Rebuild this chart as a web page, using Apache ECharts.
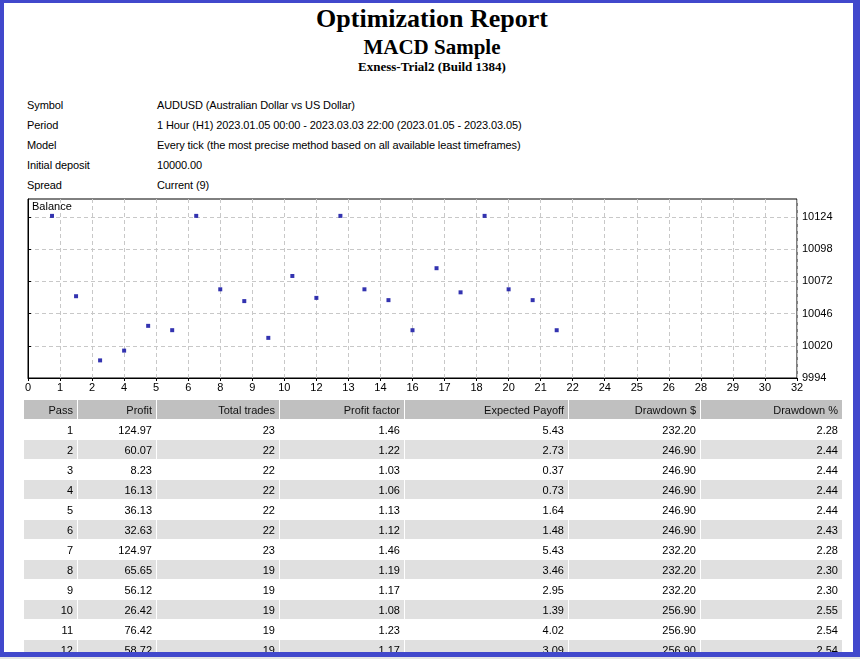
<!DOCTYPE html>
<html>
<head>
<meta charset="utf-8">
<title>Optimization Report</title>
<script src="https://cdn.jsdelivr.net/npm/echarts@6/dist/echarts.min.js"></script>
<style>
    html, body { margin: 0; padding: 0; }
    body { width: 860px; height: 659px; position: relative; overflow: hidden; background: #e4e4e4; font-family: "Liberation Sans", Arial, sans-serif; color: #000; }
    #page { position: absolute; left: 0; top: 0; width: 860px; height: 657px; background: #fff; overflow: hidden; }
    .frame { position: absolute; background: #4148cc; z-index: 10; }
    .t1, .t2, .t3 { position: absolute; left: 0; width: 864px; text-align: center; font-family: "Liberation Serif", "Times New Roman", serif; font-weight: bold; white-space: nowrap; }
    .t1 { top: 3px; font-size: 26px; line-height: 32px; }
    .t2 { top: 35px; font-size: 21px; line-height: 24px; }
    .t3 { top: 59px; font-size: 13px; line-height: 16px; }
    .info { position: absolute; font-size: 11px; line-height: 20px; white-space: nowrap; letter-spacing: -0.1px; }
    #chart { position: absolute; left: 0; top: 190px; width: 860px; height: 210px; }
    #tbl { position: absolute; left: 23px; top: 399px; border-collapse: separate; border-spacing: 1px; font-size: 11px; table-layout: fixed; }
    #tbl td, #tbl th { height: 19px; padding: 0 4px; text-align: right; white-space: nowrap; font-weight: normal; box-sizing: border-box; }
    #tbl th { background: #c0c0c0; color: #111; }
    #tbl tr.even td { background: #e0e0e0; }
</style>
</head>
<body>
<div id="page">
    <div class="t1">Optimization Report</div>
    <div class="t2">MACD Sample</div>
    <div class="t3">Exness-Trial2 (Build 1384)</div>
    <div id="info"></div>
    <div id="chart"></div>
    <table id="tbl"></table>
</div>
<div class="frame" style="left:0;top:0;width:860px;height:3px"></div>
<div class="frame" style="left:0;top:0;width:4px;height:657px"></div>
<div class="frame" style="left:853px;top:0;width:7px;height:657px"></div>
<div class="frame" style="left:0;top:652px;width:860px;height:5px"></div>
<script>
// report header fields
var infoLabels = ['Symbol', 'Period', 'Model', 'Initial deposit', 'Spread'];
var infoValues = [
    'AUDUSD (Australian Dollar vs US Dollar)',
    '1 Hour (H1) 2023.01.05 00:00 - 2023.03.03 22:00 (2023.01.05 - 2023.03.05)',
    'Every tick (the most precise method based on all available least timeframes)',
    '10000.00',
    'Current (9)'
];

// balance per pass (chart); passes 13..22
var passes = [1, 2, 3, 4, 5, 6, 7, 8, 9, 10, 11, 12, 13, 14, 15, 16, 17, 18, 19, 20, 21, 22];
var balance = [10124.97, 10060.07, 10008.23, 10016.13, 10036.13, 10032.63, 10124.97, 10065.65, 10056.12, 10026.42, 10076.42, 10058.72,
               10124.97, 10065.65, 10056.9, 10032.6, 10082.7, 10063.2, 10124.97, 10065.65, 10056.9, 10032.6];

// axis ticks
var xTickLabels = ['0', '1', '2', '4', '5', '6', '8', '9', '10', '12', '13', '14', '16', '17', '18', '20', '21', '22', '24', '25', '26', '28', '29', '30', '32'];
var yTickValues = [9994, 10020, 10046, 10072, 10098, 10124];

// results table
var columns = ['Pass', 'Profit', 'Total trades', 'Profit factor', 'Expected Payoff', 'Drawdown $', 'Drawdown %'];
var colWidths = [53, 78, 122, 124, 163, 131, 141];
var tPass = ['1', '2', '3', '4', '5', '6', '7', '8', '9', '10', '11', '12'];
var tProfit = ['124.97', '60.07', '8.23', '16.13', '36.13', '32.63', '124.97', '65.65', '56.12', '26.42', '76.42', '58.72'];
var tTrades = ['23', '22', '22', '22', '22', '22', '23', '19', '19', '19', '19', '19'];
var tFactor = ['1.46', '1.22', '1.03', '1.06', '1.13', '1.12', '1.46', '1.19', '1.17', '1.08', '1.23', '1.17'];
var tPayoff = ['5.43', '2.73', '0.37', '0.73', '1.64', '1.48', '5.43', '3.46', '2.95', '1.39', '4.02', '3.09'];
var tDdMoney = ['232.20', '246.90', '246.90', '246.90', '246.90', '246.90', '232.20', '232.20', '232.20', '256.90', '256.90', '256.90'];
var tDdPct = ['2.28', '2.44', '2.44', '2.44', '2.44', '2.43', '2.28', '2.30', '2.30', '2.55', '2.54', '2.54'];

// info block
var infoHtml = '';
for (var i = 0; i < infoLabels.length; i++) {
    var rowTop = 95 + i * 20;
    infoHtml += '<div class="info" style="left:27px;top:' + rowTop + 'px">' + infoLabels[i] + '</div>';
    infoHtml += '<div class="info" style="left:157px;top:' + rowTop + 'px">' + infoValues[i] + '</div>';
}
document.getElementById('info').innerHTML = infoHtml;

// table
var cols = [tPass, tProfit, tTrades, tFactor, tPayoff, tDdMoney, tDdPct];
var html = '<tr>';
for (var c = 0; c < columns.length; c++) {
    html += '<th style="width:' + colWidths[c] + 'px">' + columns[c] + '</th>';
}
html += '</tr>';
for (var r = 0; r < tPass.length; r++) {
    html += '<tr class="' + (r % 2 ? 'even' : 'odd') + '">';
    for (var c = 0; c < cols.length; c++) {
        html += '<td>' + cols[c][r] + '</td>';
    }
    html += '</tr>';
}
document.getElementById('tbl').innerHTML = html;

// chart
var myChart = echarts.init(document.getElementById('chart'), null, {renderer: 'canvas'});
var gridColor = '#c8c8c8';
var labelFont = {color: '#000', fontSize: 11, fontFamily: 'Liberation Sans, Arial, sans-serif'};

myChart.setOption({
    animation: false,
    backgroundColor: 'transparent',
    grid: {
        left: 28, top: 9, width: 769, height: 179,
        show: true, borderColor: '#000', borderWidth: 1, backgroundColor: '#fff'
    },
    graphic: [{
        type: 'text', left: 32, top: 11,
        style: {text: 'Balance', fill: '#000', font: '11px Liberation Sans, Arial, sans-serif'}
    }],
    xAxis: {
        type: 'value', min: 0, max: 32, interval: 4 / 3,
        axisLine: {lineStyle: {color: '#000'}},
        axisTick: {show: true, length: 3, lineStyle: {color: '#000'}},
        axisLabel: Object.assign({
            margin: 4,
            showMaxLabel: true,
            formatter: function (v) { return xTickLabels[Math.round(v * 0.75)]; }
        }, labelFont),
        splitLine: {show: true, lineStyle: {color: gridColor, type: [4, 3]}}
    },
    yAxis: {
        type: 'value', position: 'right', min: 9994, max: 10138.6,
        axisLine: {show: true, lineStyle: {color: '#000'}},
        axisTick: {show: true, length: 3, customValues: yTickValues, lineStyle: {color: '#000'}},
        axisLabel: Object.assign({
            margin: 5,
            customValues: yTickValues,
            formatter: function (v) { return String(Math.round(v)); }
        }, labelFont),
        splitLine: {show: true, lineStyle: {color: gridColor, type: [4, 3]}}
    },
    series: [{
        type: 'scatter',
        symbol: 'rect',
        symbolSize: 4,
        itemStyle: {color: '#00009c'},
        data: passes.map(function (p, i) { return [p, balance[i]]; })
    }]
});
</script>
</body>
</html>
